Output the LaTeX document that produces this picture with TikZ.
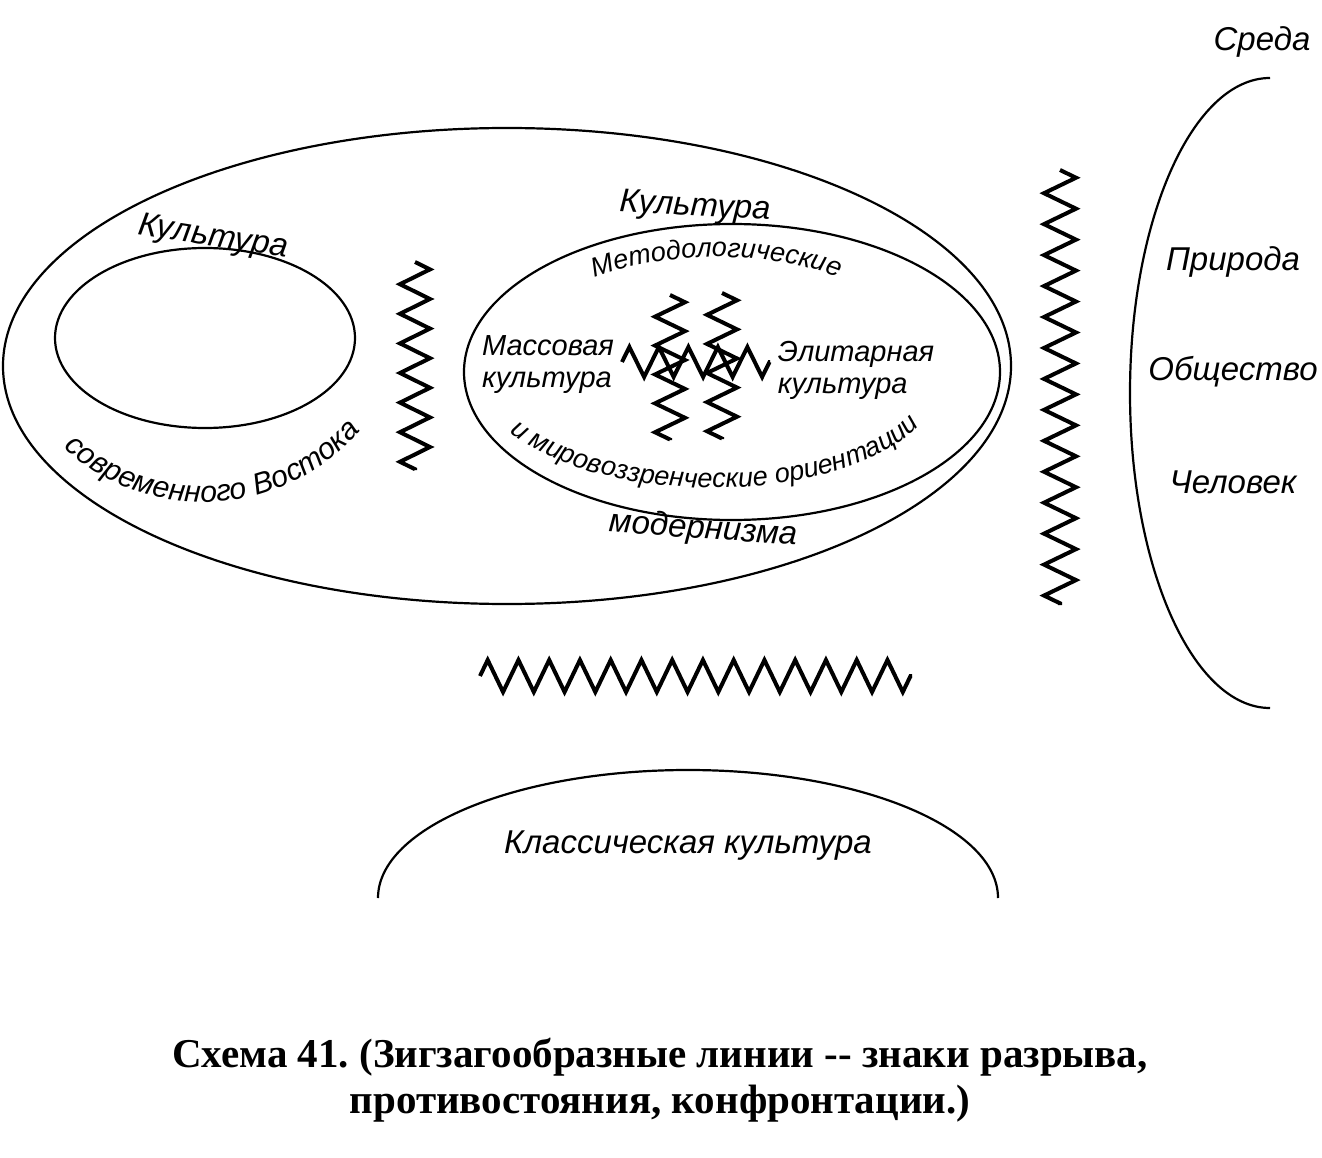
\documentclass[tikz,border=0pt]{standalone}
\usepackage{fontspec}
\setmainfont{Liberation Sans}
\newfontfamily\capfont{Liberation Serif}
\usetikzlibrary{decorations.pathmorphing,decorations.text}
\frenchspacing
\begin{document}
\begin{tikzpicture}[x=1pt,y=1pt,
  outl/.style={line width=2.2pt},
  zz/.style={line width=4pt,decorate,decoration={zigzag,amplitude=15pt,segment length=30pt}},
  lbl/.style={font=\fontsize{33}{36}\selectfont\itshape},
  curv/.style={postaction={decorate},decoration={text along path,text align=center,text={#1}}}]
\useasboundingbox (0,0) rectangle (1322,-1158);
\draw[outl] (507,-366) ellipse [x radius=504, y radius=238];
\draw[outl] (205,-338) ellipse [x radius=150, y radius=90];
\draw[outl] (732,-372) ellipse [x radius=268, y radius=148];
\draw[outl] (1270,-78) arc[start angle=90,end angle=270,x radius=140,y radius=315];
\draw[outl] (378,-898) arc[start angle=180,end angle=0,x radius=310,y radius=128];
% zigzags
\coordinate (z1a) at (415,-262); \coordinate (z1b) at (415,-470);
\draw[zz,decoration={segment length=29.6pt}] (z1a) -- (z1b);
\coordinate (z2a) at (1060,-170); \coordinate (z2b) at (1060,-605);
\draw[zz,decoration={segment length=30.95pt,amplitude=16pt}] (z2a) -- (z2b);
\coordinate (z3a) at (480,-676); \coordinate (z3b) at (912,-676);
\draw[zz,decoration={segment length=30.75pt,amplitude=16pt}] (z3a) -- (z3b);
\coordinate (z4a) at (670,-295); \coordinate (z4b) at (670,-440);
\draw[zz,decoration={segment length=28.9pt,amplitude=15pt}] (z4a) -- (z4b);
\coordinate (z5a) at (722,-293); \coordinate (z5b) at (722,-439);
\draw[zz,decoration={segment length=29.1pt,amplitude=15pt}] (z5a) -- (z5b);
\coordinate (z6a) at (622,-362); \coordinate (z6b) at (770,-362);
\draw[zz,decoration={segment length=29.5pt,amplitude=15pt}] (z6a) -- (z6b);
% texts
\node[lbl,rotate=-9] (k1) at (213,-238) {Культура};
\node[lbl,rotate=-3] (k2) at (695,-208) {Культура};
\node[lbl,rotate=-4] (mod) at (703,-530) {модернизма};
\node[lbl,align=left,font=\fontsize{29}{32}\selectfont\itshape] (mass) at (548,-365) {Массовая\\культура};
\node[lbl,align=left,font=\fontsize{29}{32}\selectfont\itshape] (elit) at (856,-370) {Элитарная\\культура};
\node[lbl] (sreda) at (1262,-42) {Среда};
\node[lbl] (prir) at (1233,-262) {Природа};
\node[lbl] (obsh) at (1233,-372) {Общество};
\node[lbl] (chel) at (1233,-482) {Человек};
\node[lbl] (klass) at (688,-846) {Классическая культура};
\path[curv={|\fontsize{30}{32}\selectfont\itshape|современного Востока}] (40,-420) .. controls (120,-532) and (300,-532) .. (382,-402);
\path[curv={|\fontsize{27}{30}\selectfont\itshape|Методологические}] (568,-290) .. controls (650,-246) and (790,-246) .. (864,-290);
\path[curv={|\fontsize{27}{30}\selectfont\itshape|и мировоззренческие ориентации}] (484,-405) .. controls (560,-517) and (882,-517) .. (942,-396);
\node[font=\capfont\bfseries\fontsize{41}{46}\selectfont,align=center] (cap) at (660,-1080) {Схема 41. (Зигзагообразные линии -- знаки разрыва,\\противостояния, конфронтации.)};
\end{tikzpicture}
\end{document}
